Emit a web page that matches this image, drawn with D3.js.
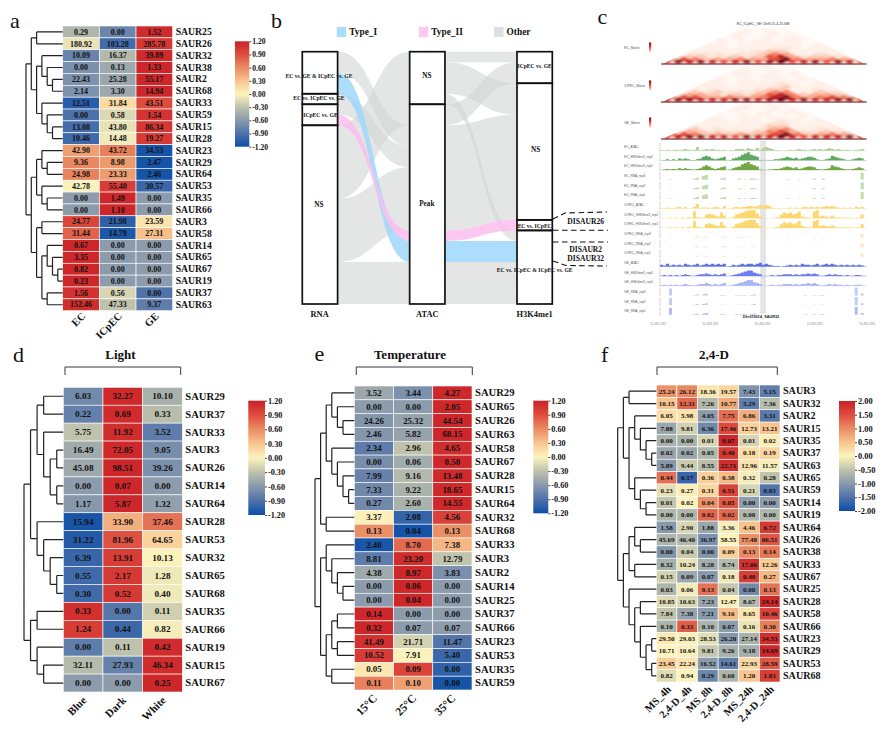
<!DOCTYPE html>
<html><head><meta charset="utf-8">
<script src="https://cdn.jsdelivr.net/npm/d3@7"></script>
<style>
html,body{margin:0;padding:0;background:#fff}
svg{display:block}
text{font-family:"Liberation Serif",serif}
</style></head><body>
<svg id="c" width="886" height="730"></svg>
<script>
// ---------- panel a
const aSamples=["EC","ICpEC","GE"];
const aGenes=[25,26,32,38,2,68,33,59,15,28,23,29,64,53,35,66,3,58,14,65,67,19,37,63];
const aValues=[[0.29,0,1.52],[180.92,103.28,285.78],[10.09,16.37,39.89],[0,0.13,1.33],[22.43,25.28,55.17],[2.14,3.30,14.94],[12.51,31.84,43.51],[0,0.58,1.54],[13.08,43.80,86.34],[10.46,14.48,19.27],[42.90,43.72,34.53],[9.36,8.98,2.47],[24.98,23.33,2.46],[42.78,55.40,30.57],[0,1.49,0],[0,1.10,0],[24.77,21.98,23.59],[31.44,14.79,27.31],[0.67,0,0],[3.35,0,0],[0.82,0,0],[0.23,0,0],[1.56,0.56,0],[152.46,47.33,9.37]];
const aTree=[[[25,26],[[32,[38,[2,68]]],[33,[59,[15,28]]]]],[[[23,[29,64]],[53,[35,66]]],[[3,58],[[14,[65,[67,19]]],[37,63]]]]];
// ---------- panel d
const dSamples=["Blue","Dark","White"];
const dGenes=[29,37,33,3,26,14,64,28,53,32,65,68,35,66,19,15,67];
const dValues=[[6.03,32.27,10.10],[0.22,0.69,0.33],[5.75,11.92,3.52],[16.49,72.05,9.05],[45.08,98.51,39.26],[0,0.07,0],[1.17,5.87,1.32],[15.94,33.90,37.46],[31.22,81.96,64.65],[6.39,13.91,10.13],[0.55,2.17,1.28],[0.30,0.52,0.40],[0.33,0,0.11],[1.24,0.44,0.82],[0,0.11,0.42],[32.11,27.93,46.34],[0,0,0.25]];
const dTree=[[[[29,37],[33,[[3,26],[14,64]]]],[28,[53,[32,[65,68]]]]],[[35,66],[19,[15,67]]]];
// ---------- panel e
const eSamples=["15°C","25°C","35°C"];
const eGenes=[29,65,26,63,58,67,28,15,64,32,68,33,3,2,14,25,37,66,23,53,35,59];
const eValues=[[3.52,3.44,4.27],[0,0,2.05],[24.26,25.32,44.54],[2.46,5.82,68.15],[2.34,2.96,4.65],[0,0.06,0.50],[7.99,9.16,13.48],[7.33,9.22,18.65],[0.27,2.60,14.55],[3.37,2.08,4.56],[0.13,0.04,0.13],[2.40,8.70,7.38],[8.81,23.20,12.79],[4.38,8.97,3.83],[0,0.06,0],[0,0.04,0],[0.14,0,0],[0.32,0.07,0.07],[41.49,21.71,11.47],[10.52,7.91,5.40],[0.05,0.09,0],[0.11,0.10,0]];
const eTree=[[[[29,[65,[26,63]]],[58,[67,[28,[15,64]]]]],[32,68]],[[33,[3,[2,[14,25]]]],[[[37,66],[23,53]],[35,59]]]];
// ---------- panel f
const fSamples=["MS_4h","2,4-D_4h","MS_8h","2,4-D_8h","MS_24h","2,4-D_24h"];
const fGenes=[3,32,2,15,35,37,63,65,59,14,19,64,26,38,33,67,25,28,58,66,23,29,53,68];
const fValues=[[25.24,26.12,18.36,19.57,7.43,5.15],[10.15,12.31,7.26,10.77,5.29,7.36],[6.05,5.98,4.05,7.75,6.86,3.31],[7.88,9.81,6.36,17.46,12.73,13.21],[0,0,0.01,0.07,0.01,0.02],[0.02,0.02,0.05,0.40,0.18,0.19],[5.89,9.44,8.55,22.71,12.96,11.57],[0.44,0.17,0.36,0.38,0.32,0.28],[0.23,0.27,0.31,0.51,0.21,0.03],[0.01,0.02,0.04,0.05,0,0],[0,0,0.02,0.02,0,0],[1.58,2.90,1.88,3.36,4.46,6.72],[45.69,46.40,36.97,58.55,77.48,86.51],[0,0.04,0,0.09,0.13,0.14],[8.32,10.24,8.28,8.74,17.06,12.26],[0.15,0.09,0.07,0.18,0.40,0.27],[0.03,0.06,0.13,0.04,0,0.13],[10.85,10.63,7.23,12.47,8.67,24.14],[7.84,7.38,7.21,9.16,8.65,10.46],[0.10,0.33,0.10,0.07,0.16,0.30],[29.50,29.03,28.53,26.20,27.14,34.53],[10.71,10.64,9.81,9.26,9.18,14.69],[23.45,22.24,16.52,14.61,22.93,28.59],[0.82,0.94,0.29,0.60,1.20,1.83]];
const fTree=[[[3,32],[[2,[15,[35,[37,63]]]],[65,[59,[14,19]]]]],[[[64,[26,38]],[33,67]],[25,[[28,58],[66,[[23,29],[53,68]]]]]]];
// ---------- panel b
const rnaNodeLabels=["EC vs. GE & ICpEC vs. GE","EC vs. ICpEC vs. GE","ICpEC vs. GE","NS"];
const rnaNodeCounts=[4,1,2,17];
const atacNodeLabels=["NS","Peak"];
const atacNodeCounts=[5,19];
const h3kNodeLabels=["ICpEC vs. GE","NS","EC vs. ICpEC","EC vs. ICpEC & ICpEC vs. GE"];
const h3kNodeCounts=[3,13,1,7];
const rnaAtacTypes=["Other","Type_I","Other","Other","Type_II","Other","Other","Other","Other","Other","Other","Other"];
const rnaAtacSizes=[2,2,1,1,1,5,2,6,1,1,1,1];
const rnaAtacTargetOrder=[5,6,0,2,3,7,4,1,8,9,10,11];
const atacH3kTypes=["Other","Other","Other","Other","Other","Type_II","Type_I","Other","Other","Other","Other"];
const atacH3kSizes=[1,3,1,2,10,1,2,1,1,1,1];
const atacH3kTargetOrder=[0,3,1,4,5,2,6,7,8,9,10];
const legendTypes=["Type_I","Type_II","Other"];
const callouts=["DISAUR26","DISAUR2","DISAUR32"];
// ---------- panel c
const matrixNames=["EC_Matrix","ICPEC_Matrix","GE_Matrix"];
const ecMatrix=["687876786896786875","46534454468544543","2332232367423322","122212235411211","11111123311111","1111111221111","011011111011","11011111101","0100110100","101010110","01001010","0100100","010100","00100"];
const icpecMatrix=["788777887897877886","46644544578545654","2443232467534432","132322235511321","11211123311211","1111111231111","111011121011","11011111101","1101011011","101011010","01101010","0100101","010100","00100"];
const geMatrix=["678877687797677786","56534343468534543","2432222356422322","131211124511211","11111113311111","1111111221111","011011121011","11011011101","1001110010","101010110","01001010","0100100","010100","00100"];
const ecAtac="102112123212512323221201133324324245431100121232212323234323212112232";
const ecK4me3="012121323211235653234501345789765100112234543423455421123654321123432";
const ecRna="000100000002305600002300002010221000000000100010000200200000000000083";
const icpecAtac="112112313113612212321401232334434545421100121212323232343432121213234";
const icpecK4me3="000101010218211565437400256789996300001257675683211893432421111101152";
const icpecRna="000100000001201200001200001110110000000000100010000100100000000000053";
const geAtac="324232324323423434343401323434434534321101232324332342343432323232323";
const geK4me3="121212123211233432323401234567754300121223332323343431123232212112211";
const geRna="000800000001202300001100011110120000000000000000100101100000000009032";
const trackNames=["EC_ATAC","EC_H3K4me3_rep2","EC_H3K4me3_rep1","EC_RNA_rep3","EC_RNA_rep2","EC_RNA_rep1","ICPEC_ATAC","ICPEC_H3K4me3_rep2","ICPEC_H3K4me3_rep1","ICPEC_RNA_rep3","ICPEC_RNA_rep2","ICPEC_RNA_rep1","GE_ATAC","GE_H3K4me3_rep2","GE_H3K4me3_rep1","GE_RNA_rep3","GE_RNA_rep2","GE_RNA_rep1"];
const trackProfiles=[ecAtac,ecK4me3,ecK4me3,ecRna,ecRna,ecRna,icpecAtac,icpecK4me3,icpecK4me3,icpecRna,icpecRna,icpecRna,geAtac,geK4me3,geK4me3,geRna,geRna,geRna];
const trackColors=["#b3cf9c","#5fa963","#74a845","#a9cc8c","#a9cc8c","#a9cc8c","#fcd873","#fcd873","#fcd873","#fad9a0","#fad9a0","#fad9a0","#5b70ea","#6d7ef0","#aab4f6","#a9b6f5","#a9b6f5","#8fa0f3"];
const coordLabels=["15,461,391","15,463,391","15,465,391","15,853,391","15,855,391"];

const svg=d3.select("#c");
const fontBold=s=>s.attr("font-weight","bold").attr("fill","#111");

// colour ramp read from the legends (fraction of the legend range)
const ramp=d3.scaleLinear()
 .domain([-1,-0.75,-0.5,-0.25,0,0.25,0.5,0.75,1])
 .range(["#0b4ea8","#4f72aa","#8899ac","#bfc2ac","#fdf3bc","#f8c48e","#ea8c63","#de4d3e","#cb2027"])
 .interpolate(d3.interpolateRgb).clamp(true);
const rowZ=row=>{const m=d3.mean(row),s=d3.deviation(row);return row.map(v=>(v-m)/s)};
const legendFmt=d=>(Math.abs(d)<1e-9?0:d).toFixed(2);

let gradId=0;
function heat(cfg){
 const g=svg.append("g");
 const x=d3.scaleBand().domain(cfg.samples).range([cfg.x0,cfg.x1]);
 const y=d3.scaleBand().domain(cfg.genes.map(n=>"SAUR"+n)).range([cfg.y0,cfg.y1]);
 cfg.genes.forEach((n,i)=>{
  const z=rowZ(cfg.values[i]),name="SAUR"+n;
  cfg.samples.forEach((s,j)=>{
   g.append("rect").attr("x",x(s)).attr("y",y(name)).attr("width",x.bandwidth()).attr("height",y.bandwidth())
    .attr("fill",ramp(z[j]/cfg.limit)).attr("stroke","#fff").attr("stroke-width",0.6);
   g.append("text").attr("x",x(s)+x.bandwidth()/2).attr("y",y(name)+y.bandwidth()/2).attr("dy","0.34em")
    .attr("text-anchor","middle").attr("font-size",cfg.cellFont).call(fontBold).text(cfg.values[i][j].toFixed(2));
  });
 });
 const ax=svg.append("g").attr("transform",`translate(${cfg.x1+3},0)`).call(d3.axisRight(y).tickSize(0).tickPadding(0));
 ax.select(".domain").remove();
 ax.selectAll("text").attr("font-size",cfg.labelFont).attr("font-family","Liberation Serif").attr("font-weight","bold").attr("fill","#111");
 cfg.samples.forEach(s=>{
  const cx=x(s)+x.bandwidth()/2+cfg.colDx, cy=cfg.y1+cfg.colDy;
  svg.append("text").attr("transform",`translate(${cx},${cy}) rotate(-45)`).attr("text-anchor","end")
   .attr("font-size",cfg.colFont).call(fontBold).text(s);
 });
 const root=d3.hierarchy(cfg.tree,d=>Array.isArray(d)?d:null);
 const depth=d3.scaleLinear().domain([0,1]).range([cfg.rootX,cfg.rootX+cfg.step]);
 root.eachAfter(nd=>{
  if(nd.children) nd.py=d3.mean(nd.children,c=>c.py);
  else nd.py=y("SAUR"+nd.data)+y.bandwidth()/2;
 });
 const p=d3.path();
 root.each(nd=>{
  if(!nd.children) return;
  const px=depth(nd.depth);
  p.moveTo(px,nd.children[0].py);p.lineTo(px,nd.children[nd.children.length-1].py);
  nd.children.forEach(c=>{p.moveTo(px,c.py);p.lineTo(c.children?depth(c.depth):cfg.x0,c.py);});
 });
 svg.append("path").attr("d",p.toString()).attr("fill","none").attr("stroke","#222").attr("stroke-width",1.2);
 const id="lg"+(gradId++);
 const gr=svg.append("defs").append("linearGradient").attr("id",id).attr("x1",0).attr("x2",0).attr("y1",1).attr("y2",0);
 d3.range(0,1.001,0.125).forEach(t=>gr.append("stop").attr("offset",t).attr("stop-color",ramp(t*2-1)));
 const L=cfg.legend;
 svg.append("rect").attr("x",L.x0).attr("y",L.y0).attr("width",L.x1-L.x0).attr("height",L.y1-L.y0).attr("fill",`url(#${id})`);
 const ls=d3.scaleLinear().domain([-cfg.limit,cfg.limit]).range([L.y1,L.y0]);
 const la=svg.append("g").attr("transform",`translate(${L.x1},0)`)
  .call(d3.axisRight(ls).tickValues(d3.range(-cfg.limit,cfg.limit+1e-6,cfg.limit/4)).tickFormat(legendFmt).tickSize(2).tickPadding(1));
 la.select(".domain").remove();
 la.selectAll("line").attr("stroke","#444");
 la.selectAll("text").attr("font-size",L.font).attr("font-family","Liberation Serif").attr("font-weight","bold").attr("fill","#111");
 if(cfg.title){
  svg.append("path").attr("d",`M${cfg.bx0},375V367H${cfg.bx1}V375`).attr("fill","none").attr("stroke","#222").attr("stroke-width",0.9);
  svg.append("text").attr("x",cfg.tx).attr("y",358.5).attr("text-anchor","middle").attr("font-size",13).call(fontBold).text(cfg.title);
 }
}
heat({samples:aSamples,genes:aGenes,values:aValues,tree:aTree,limit:1.2,x0:62.7,x1:172.7,y0:26,y1:310.7,cellFont:8,labelFont:9.7,colFont:10.5,colDx:5,colDy:6,rootX:26,step:5.3,
 legend:{x0:235,x1:249.3,y0:41.3,y1:146.7,font:7.6}});
heat({samples:dSamples,genes:dGenes,values:dValues,tree:dTree,limit:1.2,x0:63.3,x1:182.3,y0:387.3,y1:692,cellFont:9.2,labelFont:10.6,colFont:11,colDx:4,colDy:9,rootX:24,step:6.55,
 legend:{x0:248.3,x1:265,y0:400.7,y1:515,font:8.2},title:"Light",bx0:65,bx1:180.7,tx:120.5});
heat({samples:eSamples,genes:eGenes,values:eValues,tree:eTree,limit:1.2,x0:354.3,x1:472,y0:386,y1:690,cellFont:8.9,labelFont:10.6,colFont:11.5,colDx:4,colDy:9,rootX:315,step:5.6,
 legend:{x0:533.3,x1:548.3,y0:400.7,y1:513.3,font:8.2},title:"Temperature",bx0:356.3,bx1:472.3,tx:410});
heat({samples:fSamples,genes:fGenes,values:fValues,tree:fTree,limit:2,x0:656.3,x1:780,y0:385,y1:682,cellFont:7,labelFont:10.1,colFont:10.5,colDx:5,colDy:8,rootX:617.7,step:5.67,
 legend:{x0:839,x1:855,y0:401,y1:511,font:8.4},title:"2,4-D",bx0:657,bx1:777.3,tx:714});

// ---------- alluvial panel b
const total=d3.sum(rnaNodeCounts);
const sy=d3.scaleLinear().domain([0,total]).range([51.7,304]);
const stageX=d3.scalePoint().domain(["RNA","ATAC","H3K4me1"]).range([302.3,517]);
const stageW=35.3;
const flowColor={Other:"#d3d5d5",Type_I:"#9dd8fb",Type_II:"#fbbdee"};
const flowOpacity={Other:0.62,Type_I:0.85,Type_II:0.85};
function flows(fromStage,toStage,types,sizes,targetOrder){
 const srcY=[];let c=0;sizes.forEach((s,i)=>{srcY[i]=c;c+=s});
 const tgtY=[];c=0;targetOrder.forEach(i=>{tgtY[i]=c;c+=sizes[i]});
 const xa=stageX(fromStage)+stageW,xb=stageX(toStage),xm=(xa+xb)/2;
 const draw=d3.range(sizes.length).sort((p,q)=>(types[p]==="Other"?0:1)-(types[q]==="Other"?0:1));
 draw.forEach(i=>{
  const p=d3.path(),a0=sy(srcY[i]),a1=sy(srcY[i]+sizes[i]),b0=sy(tgtY[i]),b1=sy(tgtY[i]+sizes[i]);
  p.moveTo(xa,a0);p.bezierCurveTo(xm,a0,xm,b0,xb,b0);p.lineTo(xb,b1);p.bezierCurveTo(xm,b1,xm,a1,xa,a1);p.closePath();
  svg.append("path").attr("d",p.toString()).attr("fill",flowColor[types[i]]).attr("fill-opacity",flowOpacity[types[i]]);
 });
}
flows("RNA","ATAC",rnaAtacTypes,rnaAtacSizes,rnaAtacTargetOrder);
flows("ATAC","H3K4me1",atacH3kTypes,atacH3kSizes,atacH3kTargetOrder);
function nodes(stage,labels,counts,offs,xOffs){
 let c=0;
 counts.forEach((n,i)=>{
  svg.append("rect").attr("x",stageX(stage)).attr("y",sy(c)).attr("width",stageW).attr("height",sy(c+n)-sy(c))
   .attr("fill","none").attr("stroke","#111").attr("stroke-width",1.7);
  c+=n;
 });
 c=0;
 counts.forEach((n,i)=>{
  const big=labels[i]==="NS"||labels[i]==="Peak";
  svg.append("text").attr("x",stageX(stage)+stageW/2+xOffs[i]).attr("y",(sy(c)+sy(c+n))/2+offs[i]).attr("dy","0.34em")
   .attr("text-anchor","middle").attr("font-size",big?7.2:5.6).call(fontBold).text(labels[i]);
  c+=n;
 });
 svg.append("text").attr("x",stageX(stage)+stageW/2+(stage==="RNA"?-0.3:0)).attr("y",316.5).attr("text-anchor","middle").attr("font-size",8.4).call(fontBold).text(stage);
}
nodes("RNA",rnaNodeLabels,rnaNodeCounts,[3.5,-1,0.3,-10],[-1,-1,0.5,-1]);
nodes("ATAC",atacNodeLabels,atacNodeCounts,[-2,-1],[-0.5,-0.5]);
nodes("H3K4me1",h3kNodeLabels,h3kNodeCounts,[-1.3,-2,0.7,3],[0,1,0,0]);
const legX=[336.7,418.7,494];
legendTypes.forEach((t,i)=>{
 svg.append("rect").attr("x",legX[i]).attr("y",27).attr("width",9.5).attr("height",10).attr("fill",flowColor[t]).attr("fill-opacity",t==="Other"?0.75:0.85);
 svg.append("text").attr("x",legX[i]+12.5).attr("y",35).attr("font-size",9.4).call(fontBold).text(t);
});
const dash=svg.append("g").attr("fill","none").attr("stroke","#111").attr("stroke-width",1.1).attr("stroke-dasharray","5.5,3.5");
[[[553,219],[565,213],[607,212]],[[553,230.3],[608,230.3]],[[553,242],[608,242]],[[553,261],[566,265.5],[607,266]]]
 .forEach(pts=>dash.append("path").attr("d",d3.line()(pts)));
[[callouts[0],221],[callouts[1],249.7],[callouts[2],258.7]].forEach(([t,yy])=>
 svg.append("text").attr("x",585.7).attr("y",yy).attr("dy","0.34em").attr("text-anchor","middle").attr("font-size",7.6).call(fontBold).text(t));

// ---------- panel c
const cG=svg.append("g");
const cDefs=svg.append("defs");
cDefs.append("filter").attr("id","soft").attr("x","-5%").attr("y","-5%").attr("width","110%").attr("height","110%")
 .append("feGaussianBlur").attr("stdDeviation",0.5);
cDefs.append("filter").attr("id","softer").attr("x","-5%").attr("y","-10%").attr("width","110%").attr("height","120%")
 .append("feGaussianBlur").attr("stdDeviation",0.9);
const reds=d3.scaleLinear().domain([0,1,2,3,4,5,6,7,8,9])
 .range(["#fff8f4","#fff0e8","#fee2d5","#fdc9b3","#fba98d","#f67f5f","#e64a35","#c2151b","#8f0a12","#5f000c"]);
const hx0=661,hx1=866.7,hn=18,hw=(hx1-hx0)/hn/2,hh=hw/2.24;
[[ecMatrix,64],[icpecMatrix,102],[geMatrix,139]].forEach(([mat,base],k)=>{
 const clipId="hi"+k;
 cDefs.append("clipPath").attr("id",clipId).append("path").attr("d",`M${hx0},${base+0.6}L741.7,${base-36}H788L${hx1},${base+0.6}Z`);
 const clipG=cG.append("g").attr("clip-path",`url(#${clipId})`);
 const hiG=clipG.append("g").attr("filter","url(#softer)");
 mat.forEach((row,r)=>{
  row.split("").forEach((ch,j)=>{
   const cx=hx0+hw*(r+1)+2*hw*j, cy=base-hh*(r+1);
   hiG.append("path").attr("d",`M${cx-hw},${cy}L${cx},${cy-hh}L${cx+hw},${cy}L${cx},${cy+hh}Z`).attr("fill",reds(+ch));
  });
 });
 cG.append("path").attr("d",`M${hx0},${base}H${hx1}`).attr("stroke","#67000d").attr("stroke-width",1.2);
 const barY=d3.scaleLinear().domain([0,1]).range([base-11,base-21.5]);
 const gid="hc"+k;
 const gg=cDefs.append("linearGradient").attr("id",gid).attr("x1",0).attr("x2",0).attr("y1",1).attr("y2",0);
 gg.append("stop").attr("offset",0).attr("stop-color","#fff5f0");gg.append("stop").attr("offset",0.5).attr("stop-color","#f6553c");gg.append("stop").attr("offset",1).attr("stop-color","#8b0010");
 cG.append("rect").attr("x",649).attr("y",barY(1)).attr("width",2.2).attr("height",barY(0)-barY(1)).attr("fill",`url(#${gid})`);
 cG.append("text").attr("x",624.3).attr("y",(barY(0)+barY(1))/2).attr("dy","0.34em").attr("font-size",3.3).attr("fill","#555").style("font-family","Liberation Sans").text(matrixNames[k]);
});
const tx=d3.scaleLinear().domain([0,69]).range([660,866.7]);
const tBase=d3.scaleLinear().domain([0,17]).range([150.7,314.7]);
cG.append("rect").attr("x",760.7).attr("y",141).attr("width",5).attr("height",172).attr("fill","#dcdcdc").attr("fill-opacity",0.75).attr("stroke","#cfcfcf").attr("stroke-width",0.3);
const trG=cG.append("g").attr("filter","url(#soft)");
trackNames.forEach((name,i)=>{
 const vals=trackProfiles[i].split("").map(Number);
 const by=tBase(i);
 const isRna=name.includes("RNA");
 const h=d3.scalePow().exponent(1.35).domain([0,9]).range([by,by-8]);
 const ar=d3.area().x((d,j)=>tx(j)).y0(by).y1(d=>h(d)).curve(d3.curveStepAfter);
 trG.append("path").attr("d",ar(vals)).attr("fill",trackColors[i]).attr("fill-opacity",isRna?0.7:1);
 if(!isRna) trG.append("path").attr("d",`M660,${by}H866.7`).attr("stroke",trackColors[i]).attr("stroke-width",0.5).attr("stroke-opacity",0.8);
 cG.append("path").attr("d",`M659,${by}h1V${by-7}h-1`).attr("fill","none").attr("stroke","#999").attr("stroke-width",0.4);
 cG.append("text").attr("x",624.3).attr("y",by-2.5).attr("font-size",3.2).attr("fill","#555").style("font-family","Liberation Sans").text(name);
});
const coordX=d3.scalePoint().domain(coordLabels).range([658,867]);
coordLabels.forEach(t=>cG.append("text").attr("x",coordX(t)).attr("y",325).attr("text-anchor","middle").attr("font-size",3.2).attr("fill","#888").style("font-family","Liberation Sans").text(t));
cG.append("text").attr("x",761).attr("y",318).attr("text-anchor","middle").attr("font-size",3.8).attr("font-weight","bold").attr("fill","#222").style("font-family","Liberation Sans").text("Dhr019014_SAUR32");
cG.append("text").attr("x",763).attr("y",25).attr("text-anchor","middle").attr("font-size",3.6).attr("fill","#333").style("font-family","Liberation Sans").text("EC_ICpEC_GE Chr8:25.4-25.6M");

// ---------- panel letters
[["a",10,28],["b",271,28],["c",597.5,24],["d",13,362],["e",314.5,361],["f",601,362]].forEach(([t,xx,yy])=>
 svg.append("text").attr("x",xx).attr("y",yy).attr("font-size",22).attr("fill","#111").text(t));
</script>
</body></html>
